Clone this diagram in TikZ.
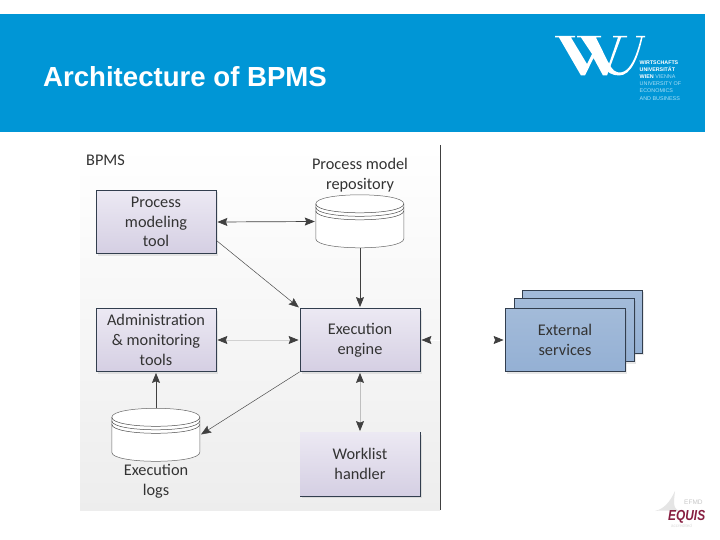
\documentclass[tikz,border=0pt]{standalone}
\usepackage{fontspec}
\usepackage{tikz}
\usetikzlibrary{arrows.meta,shadows}
\setmainfont{Carlito}
\newfontfamily\titlefont{Liberation Sans}
\definecolor{bandblue}{RGB}{0,150,214}
\definecolor{palelogo}{RGB}{170,222,245}
\definecolor{boxtop}{RGB}{236,233,243}
\definecolor{boxbot}{RGB}{213,207,227}
\definecolor{exttop}{RGB}{163,187,217}
\definecolor{extbot}{RGB}{148,176,212}
\definecolor{edgedark}{RGB}{50,62,78}
\definecolor{tipgray}{RGB}{64,64,64}
\definecolor{equisred}{RGB}{135,30,65}
\tikzset{
  labeltext/.style={font=\fontsize{16.3}{19.8}\selectfont,align=center,text=black!80},
  boxnode/.style={labeltext,minimum width=120pt,minimum height=63pt,inner sep=0pt,
    draw=edgedark,line width=.8pt,top color=boxtop,bottom color=boxbot,
    drop shadow={shadow xshift=1.5pt,shadow yshift=-2pt,opacity=.18}},
  extnode/.style={boxnode,top color=exttop,bottom color=extbot},
  drumnode/.style={minimum width=88pt,minimum height=53pt,inner sep=0pt},
  flow/.style={line width=.7pt,draw=black!75,{Stealth[length=10pt,width=8pt,inset=1.5pt,color=tipgray]}-{Stealth[length=10pt,width=8pt,inset=1.5pt,color=tipgray]},shorten <=1pt,shorten >=1pt},
  flowone/.style={line width=.7pt,draw=black!75,-{Stealth[length=10pt,width=8pt,inset=1.5pt,color=tipgray]},shorten >=1pt},
  logosmall/.style={font=\titlefont\fontsize{5.4}{6}\selectfont,anchor=base west,inner sep=0pt},
}
% database drum, drawn round a named node
\newcommand{\drumshape}[1]{
  \draw[black!60,line width=.5pt,fill=white]
    ([yshift=-9pt]#1.north west) .. controls +(0,-12) and +(0,-12) .. ++(88,0)
    -- ++(0,35) .. controls +(0,12) and +(0,12) .. ++(-88,0) -- cycle;
  \foreach \dy in {9,12.5,16}
    \draw[black!70,line width=.5pt] ([yshift=-\dy pt]#1.north west)
      .. controls +(0,12) and +(0,12) .. ++(88,0);
}
\begin{document}
\begin{tikzpicture}[x=1pt,y=-1pt]
  \useasboundingbox (0,0) rectangle (720,540);
  \fill[white] (0,0) rectangle (720,540);
  \fill[bandblue] (0,14) rectangle (705,132);
  \node[anchor=base west,inner sep=0pt,text=white,font=\titlefont\bfseries\fontsize{27.6}{30}\selectfont] (title) at (43,87) {Architecture of BPMS};

  % logo
  \fill[white] (555,36) -- (575,36) -- (575,37.5) -- (571,37.5) -- (587,64) -- (592,54) -- (581,37.5) -- (577,37.5) -- (577,36) -- (601,36) -- (601,37.5) -- (596,37.5) -- (609,64) -- (618,37.5) -- (613,37.5) -- (613,36) -- (627,36) -- (627,37.5) -- (621,37.5) -- (607,75.5) -- (603,75.5) -- (593.5,58) -- (585,75.5) -- (581,75.5) -- (559,37.5) -- (555,37.5) -- cycle;
  \fill[white] (609,62) .. controls (611,70) and (616,73) .. (621,72.5) .. controls (630,71) and (636,58) .. (641,37.5) -- (636,37.5) -- (636,36) -- (645,36) -- (645,37.5) -- (642.5,37.5) .. controls (638,58) and (631,75.5) .. (619,75.5) .. controls (612,75.5) and (607,72) .. (605,68) -- cycle;
  \node[logosmall,text=white,font=\titlefont\bfseries\fontsize{5.3}{6}\selectfont] (logoa) at (639.5,65) {WIRTSCHAFTS};
  \node[logosmall,text=white,font=\titlefont\bfseries\fontsize{5.3}{6}\selectfont] (logob) at (639.5,71.5) {UNIVERSITÄT};
  \node[logosmall,text=palelogo] (logoc) at (639.5,79) {\textcolor{white}{\bfseries WIEN} VIENNA};
  \node[logosmall,text=palelogo] (logod) at (639.5,86) {UNIVERSITY OF};
  \node[logosmall,text=palelogo] (logoe) at (639.5,93) {ECONOMICS};
  \node[logosmall,text=palelogo] (logof) at (639.5,100.5) {AND BUSINESS};

  % equis mark
  \fill[black!10] (655,511) .. controls (664,509) and (670,502) .. (675,491) .. controls (674,501) and (672,509) .. (680,511) .. controls (670,511) and (663,510) .. (655,511) -- cycle;
  \node[anchor=base west,inner sep=0pt,text=black!22,font=\titlefont\fontsize{6.5}{7}\selectfont] (efmd) at (684,504) {EFMD};
  \node[anchor=base west,inner sep=0pt,text=equisred,font=\titlefont\bfseries\itshape\fontsize{14.5}{15}\selectfont] (equis) at (668,520.5) {\scalebox{.82}[1]{EQUIS}};
  \node[anchor=base west,inner sep=0pt,text=black!15,font=\titlefont\fontsize{4.5}{5}\selectfont] (accred) at (671,527.5) {accredited};

  % panel
  \shade[top color=white,bottom color=black!7] (80,145) rectangle (440,510);

  \node[labeltext,anchor=west,inner sep=0pt] (bpms) at (86,160) {BPMS};
  \node[labeltext] (repolabel) at (360,175) {Process model\\repository};
  \node[drumnode] (repo) at (360,221.5) {};
  \drumshape{repo}
  \node[boxnode] (tool) at (156,222) {Process\\modeling\\tool};
  \node[boxnode] (admin) at (156,340) {Administration\\\& monitoring\\tools};
  \node[boxnode] (engine) at (360,340) {Execution\\engine};
  \node[boxnode,draw=none] (worklist) at (360,464) {Worklist\\handler};
  \draw[edgedark,line width=.8pt] (worklist.north east) -- (worklist.south east) -- (worklist.south west);
  \node[drumnode] (logs) at (156,435) {};
  \drumshape{logs}
  \node[labeltext] (logslabel) at (156,481) {Execution\\logs};

  \node[extnode] (extc) at (582.5,321.5) {};
  \node[extnode] (extb) at (574,330) {};
  \node[extnode] (exta) at (565,340) {External\\services};

  \draw[flow] (tool.east) -- (repo.west);
  \draw[flowone,draw=black!70,line width=.5pt] (tool.-17) -- (engine.north west);
  \draw[flowone] (repo.south) -- (engine.north);
  \draw[flow,draw=black!18] (admin.east) -- (engine.west);
  \draw[flowone,draw=black!70,line width=.5pt] (engine.south west) -- (logs.east);
  \draw[flowone] (logs.north) -- (admin.south);
  \draw[flow,draw=black!25] (engine.south) -- (worklist.north);
  \draw[flow,draw=white] (engine.east) -- (exta.west);
  \draw[black!75,line width=.8pt] (440,145) -- (440,510);
\end{tikzpicture}
\end{document}
